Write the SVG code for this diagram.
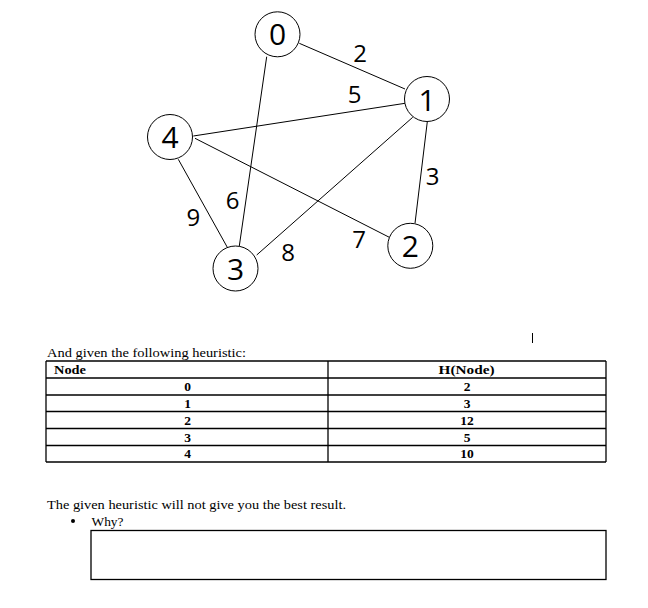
<svg xmlns="http://www.w3.org/2000/svg" width="648" height="608" viewBox="0 0 648 608">
<style>
.node circle{fill:#fff;stroke:#000;stroke-width:1}
.node text{font-family:"Open Sans","DejaVu Sans",sans-serif;font-size:30px;fill:#000;text-anchor:middle}
.edge line{stroke:#000;stroke-width:1}
.elabel{font-family:"Open Sans","DejaVu Sans",sans-serif;font-size:24px;fill:#000;text-anchor:middle}
.doc{font-family:"Liberation Serif","Times New Roman",serif;font-size:13.5px;fill:#000}
.tb{font-family:"Liberation Serif","Times New Roman",serif;font-size:13.5px;font-weight:bold;fill:#000}
.c{text-anchor:middle}
.grid line{stroke:#000;stroke-width:1.3}
</style>
<rect width="648" height="608" fill="#fff"/>
<g id="connectors" class="edge">
  <line x1="299.3" y1="43.3" x2="405" y2="89"/>
  <line x1="193.3" y1="136" x2="405" y2="103.3"/>
  <line x1="266.7" y1="56.7" x2="239.3" y2="246"/>
  <line x1="178.3" y1="159.3" x2="227.3" y2="247.3"/>
  <line x1="195" y1="138.3" x2="389.3" y2="237.3"/>
  <line x1="412.7" y1="117.3" x2="256.7" y2="255"/>
  <line x1="427.3" y1="121.7" x2="415" y2="223.3"/>
  <text class="elabel" x="360" y="61.5">2</text>
  <text class="elabel" x="354.5" y="103.3">5</text>
  <text class="elabel" x="432.5" y="185">3</text>
  <text class="elabel" x="232.5" y="209">6</text>
  <text class="elabel" x="193.3" y="226">9</text>
  <text class="elabel" x="359" y="247.7">7</text>
  <text class="elabel" x="288" y="260.7">8</text>
</g>
<g id="node0" class="node"><circle cx="277.5" cy="34.3" r="22.5"/><text x="277.5" y="45">0</text></g>
<g id="node1" class="node"><circle cx="427" cy="99" r="22.5"/><text x="427" y="111">1</text></g>
<g id="node2" class="node"><circle cx="410.3" cy="245.8" r="22.5"/><text x="410.3" y="257">2</text></g>
<g id="node3" class="node"><circle cx="235.5" cy="268.5" r="22.5"/><text x="235.5" y="280">3</text></g>
<g id="node4" class="node"><circle cx="170" cy="137" r="22.5"/><text x="170" y="148">4</text></g>
<line x1="532.5" y1="333" x2="532.5" y2="343" stroke="#000" stroke-width="1"/>
<text class="doc" x="47" y="356.5" textLength="199" lengthAdjust="spacingAndGlyphs">And given the following heuristic:</text>
<g id="table">
  <g class="grid">
    <line x1="46" y1="361" x2="606" y2="361"/>
    <line x1="46" y1="378" x2="606" y2="378"/>
    <line x1="46" y1="395" x2="606" y2="395"/>
    <line x1="46" y1="411.5" x2="606" y2="411.5"/>
    <line x1="46" y1="428.5" x2="606" y2="428.5"/>
    <line x1="46" y1="445.5" x2="606" y2="445.5"/>
    <line x1="46" y1="462" x2="606" y2="462"/>
    <line x1="46" y1="361" x2="46" y2="462"/>
    <line x1="328" y1="361" x2="328" y2="462"/>
    <line x1="606" y1="361" x2="606" y2="462"/>
  </g>
  <text class="tb" x="54" y="374.3" textLength="32" lengthAdjust="spacingAndGlyphs">Node</text>
  <text class="tb c" x="466.5" y="374.3" textLength="56" lengthAdjust="spacingAndGlyphs">H(Node)</text>
  <text class="tb c" x="187.5" y="391">0</text>
  <text class="tb c" x="187.5" y="407.5">1</text>
  <text class="tb c" x="187.5" y="424.5">2</text>
  <text class="tb c" x="187.5" y="441.5">3</text>
  <text class="tb c" x="187.5" y="458">4</text>
  <text class="tb c" x="467" y="391">2</text>
  <text class="tb c" x="467" y="407.5">3</text>
  <text class="tb c" x="467" y="424.5">12</text>
  <text class="tb c" x="467" y="441.5">5</text>
  <text class="tb c" x="467" y="458">10</text>
</g>
<text class="doc" x="47" y="509" textLength="299" lengthAdjust="spacingAndGlyphs">The given heuristic will not give you the best result.</text>
<circle cx="73" cy="521" r="2" fill="#000"/>
<text class="doc" x="91.5" y="525.5" textLength="32" lengthAdjust="spacingAndGlyphs">Why?</text>
<rect x="91" y="530.5" width="515" height="49" fill="none" stroke="#000" stroke-width="1.3"/>
</svg>
